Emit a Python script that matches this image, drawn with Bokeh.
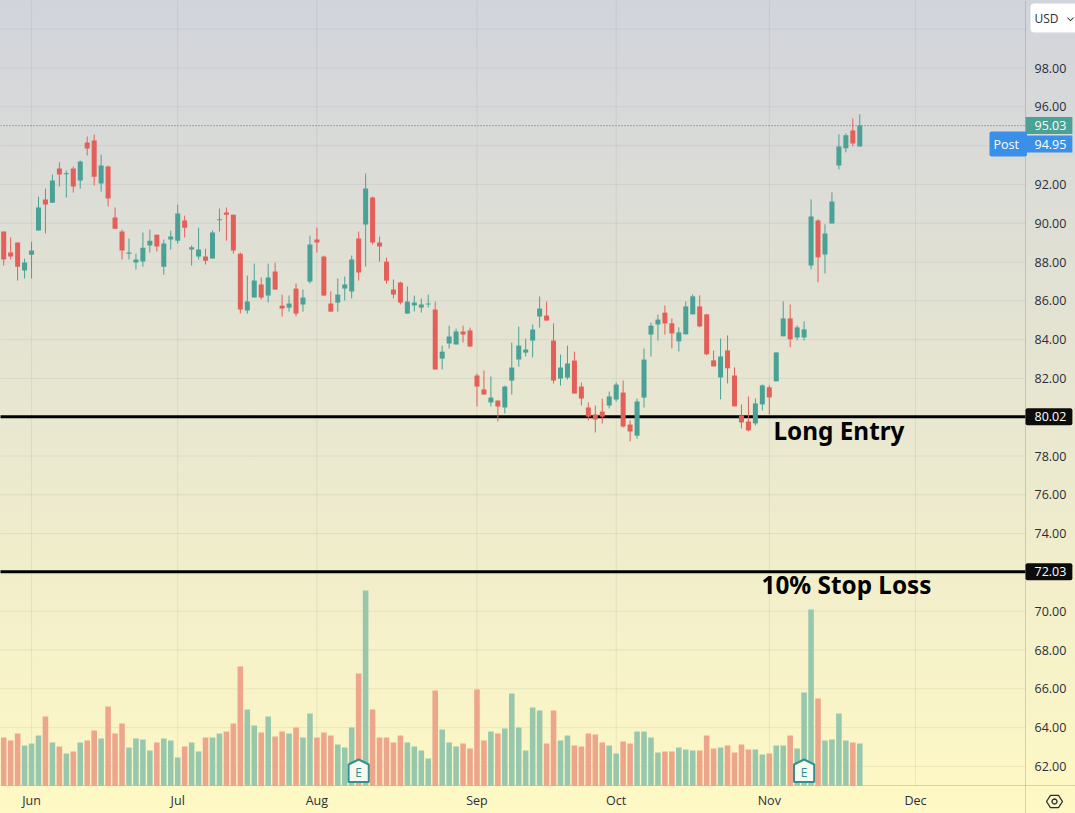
import numpy as np
from bokeh.plotting import figure, ColumnDataSource
from bokeh.core.properties import value
from bokeh.models import Range1d, FixedTicker, Label, PolyAnnotation, NumeralTickFormatter
from bokeh.embed import file_html
from bokeh.resources import INLINE

opens = [89.57,88.49,89.00,87.56,88.38,89.62,91.22,91.06,92.82,92.52,
         92.82,92.20,94.16,94.26,92.04,92.92,90.29,89.57,88.43,87.97,
         88.02,88.85,89.41,87.76,89.16,89.10,90.14,88.64,88.28,88.28,
         88.18,90.15,90.55,90.44,88.43,85.50,86.17,86.84,86.27,87.51,
         85.75,85.65,86.63,85.81,86.99,89.16,88.28,85.86,85.91,86.63,
         86.48,89.21,89.93,91.32,89.00,88.02,86.58,86.94,85.34,85.76,
         85.65,85.81,85.55,83.02,83.80,83.75,84.42,84.47,82.15,81.43,
         80.76,80.86,80.50,81.89,82.97,83.33,83.95,85.19,85.24,83.95,
         81.99,82.04,82.92,81.58,80.50,80.14,80.29,80.60,80.91,81.27,
         79.62,79.05,81.01,84.26,84.78,85.39,84.84,83.91,84.27,85.30,
         85.71,85.30,82.93,82.05,83.44,82.15,80.09,79.78,79.68,80.66,
         81.54,81.85,84.17,85.09,84.11,84.11,87.82,90.14,88.39,89.99,
         92.98,93.86,94.78,93.96]
highs = [89.57,89.26,89.00,88.18,89.05,91.37,91.78,92.51,93.14,92.71,
         92.92,93.23,94.47,94.57,93.54,92.97,90.81,89.67,89.21,88.43,
         89.52,89.67,89.41,89.16,89.62,90.96,90.39,88.85,89.77,88.69,
         89.62,90.75,90.81,90.44,88.49,87.30,87.92,87.20,87.92,87.97,
         86.32,86.27,86.89,86.58,89.36,89.77,88.33,86.48,87.15,87.25,
         88.33,89.57,92.56,91.37,89.31,88.23,87.10,86.99,86.74,86.27,
         86.12,86.32,85.96,83.69,84.72,84.57,84.72,84.62,82.25,82.41,
         82.10,80.86,81.63,83.85,84.67,84.05,84.78,86.22,85.96,84.83,
         83.23,83.69,83.38,81.79,80.76,80.60,80.96,81.32,81.79,81.89,
         79.83,80.96,83.54,84.88,85.29,85.76,85.09,84.63,85.97,86.33,
         86.28,85.30,83.44,84.06,84.22,82.57,80.66,81.07,80.97,81.69,
         81.64,83.34,85.97,85.81,84.73,84.94,91.23,90.20,89.94,91.59,
         94.58,94.63,95.40,95.61]
lows = [87.82,88.13,87.04,87.15,87.15,89.62,89.47,91.06,91.89,91.32,
        91.58,91.78,93.49,91.94,91.63,90.86,89.72,88.13,88.13,87.61,
        87.76,88.49,88.54,87.35,88.64,88.95,89.26,87.82,88.13,87.87,
        88.18,89.57,89.10,88.43,85.34,85.34,86.17,86.06,85.91,86.58,
        85.19,85.44,85.19,85.44,86.89,88.49,86.27,85.44,85.44,86.01,
        86.12,87.04,87.77,88.90,88.02,86.89,86.12,85.81,85.34,85.45,
        85.39,85.65,82.46,82.46,83.54,83.75,83.85,83.64,80.55,81.17,
        80.55,79.78,80.19,81.17,82.61,83.13,83.08,84.62,84.98,81.74,
        81.63,81.94,81.22,80.60,79.83,79.21,79.67,80.45,80.81,79.47,
        78.75,78.90,80.50,83.13,83.95,84.26,83.55,83.39,84.27,85.30,
        84.63,83.19,82.62,80.92,81.74,80.56,79.42,79.27,79.58,80.35,
        80.14,81.85,84.17,83.60,83.96,83.96,87.62,86.95,87.41,89.99,
        92.77,93.65,93.96,93.96]
closes = [88.13,88.28,87.76,87.97,88.59,90.81,90.96,92.20,92.51,92.58,
          91.89,93.18,93.85,92.40,92.97,91.27,89.72,88.59,88.49,88.13,
          88.74,89.10,88.80,88.95,89.31,90.50,89.77,88.76,88.64,88.07,
          89.52,90.20,90.44,88.59,85.55,85.96,87.04,86.17,87.20,86.58,
          85.60,85.86,85.34,86.17,88.90,89.00,86.27,85.44,86.32,86.84,
          88.13,87.46,91.79,89.00,88.80,87.04,86.32,85.91,85.96,85.91,
          85.81,85.86,82.46,83.38,84.16,84.42,84.26,83.64,81.58,81.17,
          81.01,80.55,81.58,82.56,83.69,83.49,84.52,85.60,84.98,81.89,
          82.56,82.77,81.22,80.96,80.03,79.88,80.03,81.07,81.68,79.52,
          79.26,80.81,82.97,84.72,85.03,84.83,84.32,84.37,85.71,86.23,
          84.68,83.24,82.62,83.13,82.52,80.56,79.73,79.32,80.71,81.64,
          81.02,83.34,85.09,84.01,84.63,84.53,90.35,88.24,89.47,91.12,
          93.96,94.53,94.11,95.04]
volumes = [1.44,1.35,1.56,1.20,1.26,1.50,2.07,1.29,1.17,0.96,
           1.02,1.29,1.35,1.65,1.41,2.37,1.56,1.86,1.14,1.41,
           1.38,1.05,1.29,1.41,1.35,0.84,1.17,1.29,1.02,1.44,
           1.44,1.56,1.62,1.86,3.57,2.28,1.80,1.59,2.07,1.47,
           1.62,1.56,1.74,1.44,2.16,1.44,1.59,1.50,1.23,1.14,
           1.74,3.36,5.85,2.28,1.44,1.44,1.29,1.50,1.29,1.17,
           1.05,0.81,2.85,1.68,1.29,1.17,1.26,1.11,2.88,1.35,
           1.62,1.56,1.71,2.76,1.74,1.05,2.34,2.25,1.26,2.25,
           1.35,1.50,1.20,1.17,1.56,1.53,1.29,1.20,0.96,1.32,
           1.26,1.62,1.62,1.44,0.99,1.02,1.02,1.14,1.08,1.05,
           1.05,1.50,1.11,1.14,1.20,0.99,1.23,1.08,1.08,0.93,
           0.96,1.20,1.20,1.50,1.11,2.79,5.28,2.61,1.35,1.38,
           2.16,1.35,1.29,1.26]

month_labels = ["Jun", "Jul", "Aug", "Sep", "Oct", "Nov", "Dec"]
month_bars = [4, 25, 45, 68, 88, 110, 131]
price_ticks = [62, 64, 66, 68, 70, 72, 74, 76, 78, 80, 82, 84, 86, 88, 90, 92, 94, 96, 98]
earnings_bars = [51, 115]
last_price = 95.03
post_price = 94.95
long_entry = 80.02
stop_loss = 72.03

W, H = 1075, 813
# layout helpers: page pixel -> chart coordinate
def dx(px): return (px - 3.2) / 6.96
def dy(py): return 98 - (py - 67.5) / 19.4

X_LEFT, X_PANE, X_RIGHT = dx(0), dx(1025), dx(W)
Y_TOP, Y_PANE, Y_BOTTOM = dy(0), dy(785), dy(H)
X_OVER = dx(-3)

UP, DOWN = "#4aa296", "#e3605a"
VUP, VDOWN = "#97c8ae", "#eda68c"
GRID = "#787b86"
TXT = "#2a2e39"
FONT = "Open Sans"
FS = "12.5px"

idx = list(range(len(opens)))
is_up = [c >= o for o, c in zip(opens, closes)]
src = ColumnDataSource(dict(
    i=idx, o=opens, h=highs, l=lows, c=closes, v=volumes,
    top=[max(a, b) for a, b in zip(opens, closes)],
    bot=[min(a, b) for a, b in zip(opens, closes)],
    col=[UP if u else DOWN for u in is_up],
    vcol=[VUP if u else VDOWN for u in is_up],
))

p = figure(width=W, height=H, output_backend="svg", toolbar_location=None,
           x_range=Range1d(X_LEFT, X_RIGHT), y_range=Range1d(Y_BOTTOM, Y_TOP),
           y_axis_location="right", min_border=0,
           background_fill_color=None, border_fill_color=None,
           outline_line_color=None)
p.styles = {"background": "linear-gradient(to bottom, #d1d4dc, #fff9c4)"}
# volume pane: 1 unit = 33.33 px above the time axis
p.extra_y_ranges = {"vol": Range1d(-(H - 785) / 33.33, 785 / 33.33)}
p.grid.visible = False

for ax in (p.xaxis[0], p.yaxis[0]):
    ax.major_tick_line_color = None
    ax.minor_tick_line_color = None
    ax.major_tick_out = 0
    ax.major_tick_in = 0
    ax.axis_line_color = GRID
    ax.axis_line_alpha = 0.3
    ax.major_label_text_font = FONT
    ax.major_label_text_font_size = FS
    ax.major_label_text_color = TXT

p.yaxis[0].fixed_location = X_PANE
p.yaxis[0].ticker = FixedTicker(ticks=price_ticks)
p.yaxis[0].formatter = NumeralTickFormatter(format="0.00")
p.yaxis[0].major_label_standoff = 9
p.xaxis[0].fixed_location = Y_PANE
p.xaxis[0].ticker = FixedTicker(ticks=month_bars)
p.xaxis[0].major_label_overrides = dict(zip(month_bars, month_labels))
p.xaxis[0].major_label_standoff = 6

# grid, stopping at the panes
grid_y = price_ticks + [100]
p.segment(x0=month_bars, x1=month_bars, y0=Y_PANE, y1=Y_TOP, line_color=GRID, line_alpha=0.13)
p.segment(x0=X_OVER, x1=X_PANE, y0=grid_y, y1=grid_y, line_color=GRID, line_alpha=0.13)

# levels
for lvl in (long_entry, stop_loss):
    p.segment(x0=X_OVER, x1=X_PANE, y0=lvl, y1=lvl, line_color="black", line_width=3)
p.line([X_OVER, X_PANE], [last_price, last_price], line_color="#2a7f9a",
       line_width=1, line_dash=[1, 2])

# volume and candles
p.vbar(x="i", bottom=0, top="v", width=0.8, fill_color="vcol", line_color=None,
       y_range_name="vol", source=src)
p.segment(x0="i", x1="i", y0="l", y1="h", line_color="col", line_width=1, source=src)
p.vbar(x="i", bottom="bot", top="top", width=0.72, fill_color="col", line_color=None, source=src)

# earnings badges
for e in earnings_bars:
    p.patch([e - 1.45, e - 1.45, e, e + 1.45, e + 1.45],
            [dy(781.5), dy(764), dy(759), dy(764), dy(781.5)],
            fill_color="#f6fbf2", line_color="#33908f", line_width=2)
p.text(x=earnings_bars, y=[dy(771.5)] * 2, text=["E", "E"], text_align="center",
       text_baseline="middle", text_color="#33908f", text_font=value(FONT), text_font_size="12px")

# annotations
for txt, px, py in [("Long Entry", 773, 429.5), ("10% Stop Loss", 761, 583.5)]:
    p.add_layout(Label(x=dx(px), y=dy(py), text=txt, text_font="Noto Sans", text_font_style="bold",
                       text_font_size="24.3px", text_color="black", text_baseline="middle"))

def tag(text, y_val, color, left=1025, pad=(9, 6, 4, 4), radius=0):
    p.add_layout(Label(x=dx(left), y=y_val, text=text,
                       text_color="white", text_font=FONT, text_font_size=FS,
                       text_baseline="middle", background_fill_color=color,
                       padding=pad, border_radius=radius))

post_y = dy(143.5)
tag(f"{last_price:.2f}", last_price, UP)
tag("Post", post_y, "#3a8fe8", left=989, pad=(4, 8, 4, 4), radius=2)
tag(f"{post_price:.2f}", post_y, "#3a8fe8")
tag(f"{long_entry:.2f}", long_entry, "#0c0c0c", radius=2)
tag(f"{stop_loss:.2f}", stop_loss, "#0c0c0c", radius=2)

# USD button
p.add_layout(Label(x=dx(1030), y=dy(17.5), text="USD", text_color=TXT, text_font=FONT,
                   text_font_size="12px", text_baseline="middle", background_fill_color="white",
                   padding=(4, 22, 6, 6), border_radius=4))
cx, cy = 1070, 18
chev = [(-3, -1.5), (0, 1.5), (3, -1.5), (3, -0.2), (0, 2.8), (-3, -0.2)]
p.add_layout(PolyAnnotation(xs=[dx(cx + a) for a, b in chev], ys=[dy(cy + b) for a, b in chev],
                            fill_color=TXT, fill_alpha=1, line_color=None))

# settings gear
gx, gy = 1054, 801
ang = np.deg2rad(np.arange(0, 360, 60))
p.add_layout(PolyAnnotation(xs=list(dx(gx + 8 * np.cos(ang))), ys=list(dy(gy + 7 * np.sin(ang))),
                            fill_alpha=0, line_color=TXT, line_width=1.3, line_alpha=1))
ang2 = np.deg2rad(np.arange(0, 360, 30))
p.add_layout(PolyAnnotation(xs=list(dx(gx + 2.5 * np.cos(ang2))), ys=list(dy(gy + 2.5 * np.sin(ang2))),
                            fill_alpha=0, line_color=TXT, line_width=1.3, line_alpha=1))

open("out.html", "w").write(file_html(p, INLINE))
